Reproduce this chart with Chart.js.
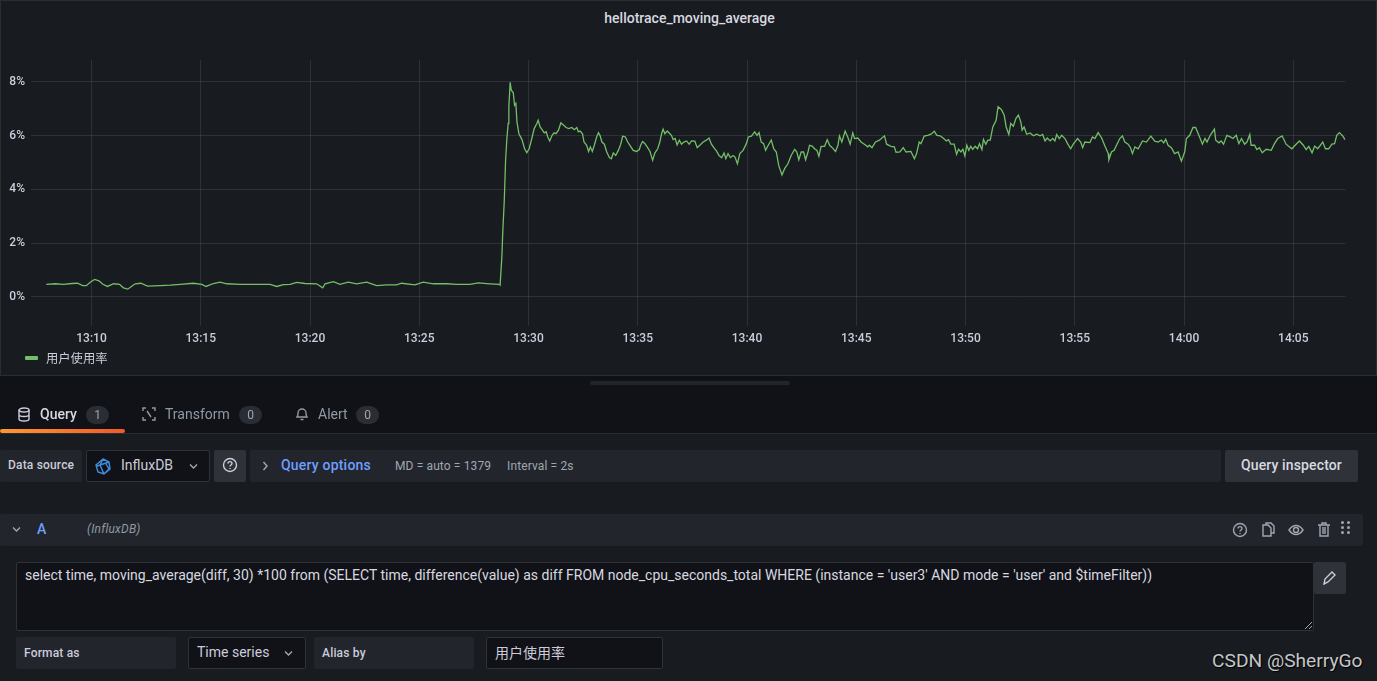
<!DOCTYPE html>
<html lang="zh">

<head>
  <meta charset="UTF-8">
  <title>hellotrace_moving_average</title>
  <script src="https://cdn.jsdelivr.net/npm/chart.js@4"></script>
  <style>
    html, body { margin: 0; height: 100%; background: #181b1f; overflow: hidden; }
    body { position: relative; width: 1377px; height: 681px; font: 14px Roboto, "Noto Sans CJK SC", sans-serif; color: #ccccdc; }
    .abs { position: absolute; white-space: nowrap; box-sizing: border-box; }
    .box { background: #22252b; border-radius: 2px; }
    .btn { background: #2f3238; border-radius: 2px; }
    .field { background: #111217; border: 1px solid #2f3238; border-radius: 2px; }
    .lbl { font-size: 12px; font-weight: 500; color: #ccccdc; letter-spacing: .18px; }
    .badge { background: #2a2d33; border-radius: 9px; font-size: 12px; text-align: center; line-height: 18px; color: #9fa7b3; }
    svg { position: absolute; fill: none; stroke: #ccccdc; stroke-width: 1.4; }
  </style>
</head>

<body>
  <!-- Panel -->
  <div class="abs" style="left:0;top:0;width:1377px;height:376px;background:#181b1f;border:1px solid #2a2d33"></div>
  <div class="abs" style="left:0;top:10px;width:1379px;text-align:center;font-weight:500;color:#d8d9e0">hellotrace_moving_average</div>
  <div style="position:absolute;left:0;top:0;width:1377px;height:376px"><canvas id="usage-chart"></canvas></div>
  <div class="abs" style="left:25px;top:356px;width:13px;height:4px;background:#73bf69;border-radius:1px"></div>
  <div class="abs" style="left:46px;top:349px;font-size:12.3px;color:#ccccdc">用户使用率</div>

  <!-- Tabs -->
  <div class="abs" style="left:0;top:376px;width:1377px;height:58px;background:#111217;border-bottom:1px solid #2a2d33"></div>
  <div class="abs" style="left:590px;top:381px;width:200px;height:4px;background:#22252b;border-radius:2px"></div>
  <svg style="left:17px;top:407px" width="14" height="15" viewBox="0 0 14 15"><ellipse cx="7" cy="3" rx="5" ry="2"/><path d="M2 3v9c0 1 2 2 5 2s5-1 5-2V3M2 7.500c0 1 2 2 5 2s5-1 5-2"/></svg>
  <div class="abs" style="left:40px;top:406px;font-weight:500;color:#d8d9e0">Query</div>
  <div class="abs badge" style="left:86px;top:406px;width:23px;height:18px">1</div>
  <svg style="left:142px;top:407px;stroke:#8e9aa6" width="14" height="14" viewBox="0 0 14 14"><path d="M1 4V1h3M10 1h3v3M13 10v3h-3M4 13H1v-3M5 4l4 6"/></svg>
  <div class="abs" style="left:165px;top:406px;color:#8e9aa6">Transform</div>
  <div class="abs badge" style="left:239px;top:406px;width:23px;height:18px">0</div>
  <svg style="left:296px;top:407px;stroke:#8e9aa6" width="12" height="14" viewBox="0 0 12 14"><path d="M1 10c1-1 1-2 1-4a4 4 0 0 1 8 0c0 2 0 3 1 4zM4.500 12.500h3"/></svg>
  <div class="abs" style="left:318px;top:406px;color:#8e9aa6">Alert</div>
  <div class="abs badge" style="left:356px;top:406px;width:23px;height:18px">0</div>
  <div class="abs" style="left:0;top:429px;width:125px;height:4px;border-radius:2px;background:linear-gradient(90deg,#ff9830,#f05a28)"></div>

  <!-- Data source row -->
  <div class="abs box lbl" style="left:0;top:450px;width:82px;height:32px;padding:8px 0 0 8px">Data source</div>
  <div class="abs field" style="left:86px;top:450px;width:124px;height:32px"></div>
  <svg style="left:95px;top:458px;stroke:#3d8fe0" width="16" height="17" viewBox="0 0 16 17"><path d="M8 1l6 3 1 7-6 5-6-2-2-7zM8 1L5 7l4 9M5 7l9-3M5 7l-3 1M9 16l5-5-3-5"/></svg>
  <div class="abs" style="left:121px;top:457px">InfluxDB</div>
  <svg style="left:189px;top:463px;stroke:#9fa7b3" width="9" height="7" viewBox="0 0 9 7"><path d="M1 1.500l3.500 3.500L8 1.500"/></svg>
  <div class="abs btn" style="left:214px;top:450px;width:32px;height:32px"></div>
  <svg style="left:222px;top:457px" width="16" height="16" viewBox="0 0 16 16"><circle cx="8" cy="8" r="6.500"/><path d="M6 6.500c0-2.500 4-2.500 4 0 0 1.500-2 1.500-2 3M8 11v1"/></svg>
  <div class="abs box" style="left:250px;top:450px;width:971px;height:32px"></div>
  <svg style="left:262px;top:461px;stroke:#9fa7b3" width="7" height="10" viewBox="0 0 7 10"><path d="M1.500 1l3.500 4-3.500 4"/></svg>
  <div class="abs" style="left:281px;top:457px;font-weight:500;color:#6e9fff;letter-spacing:.2px">Query options</div>
  <div class="abs" style="left:395px;top:459px;font-size:12px;color:#9fa7b3;letter-spacing:.12px">MD = auto = 1379</div>
  <div class="abs" style="left:507px;top:459px;font-size:12px;color:#9fa7b3;letter-spacing:.12px">Interval = 2s</div>
  <div class="abs btn" style="left:1225px;top:450px;width:133px;height:32px;padding:7px 0 0 16px;font-weight:500;color:#d8d9e0;letter-spacing:.13px">Query inspector</div>

  <!-- Query row -->
  <div class="abs box" style="left:0;top:514px;width:1363px;height:32px"></div>
  <svg style="left:12px;top:526px;stroke:#9fa7b3" width="9" height="7" viewBox="0 0 9 7"><path d="M1 1.500l3.500 3.500L8 1.500"/></svg>
  <div class="abs" style="left:37px;top:521px;font-weight:500;color:#6e9fff">A</div>
  <div class="abs" style="left:87px;top:522px;font-size:12px;font-style:italic;color:#8e9aa6;letter-spacing:.2px">(InfluxDB)</div>
  <svg style="left:1232px;top:522px;stroke:#9fa7b3" width="16" height="16" viewBox="0 0 16 16"><circle cx="8" cy="8" r="6.500"/><path d="M6 6.500c0-2.500 4-2.500 4 0 0 1.500-2 1.500-2 3M8 11v1"/></svg>
  <svg style="left:1262px;top:522px;stroke:#9fa7b3" width="13" height="15" viewBox="0 0 13 15"><path d="M4 3V1h5l3 3v7H9M1 3h5l3 3v8H1z"/></svg>
  <svg style="left:1288px;top:523px;stroke:#9fa7b3" width="16" height="14" viewBox="0 0 16 14"><path d="M1 7c4-6 10-6 14 0-4 6-10 6-14 0z"/><circle cx="8" cy="7" r="2.500"/></svg>
  <svg style="left:1318px;top:522px;stroke:#9fa7b3" width="12" height="15" viewBox="0 0 12 15"><path d="M0 3h12M4 3V1h4v2M2 3v11h8V3M5 5v7M7 5v7"/></svg>
  <svg style="left:1341px;top:521px;fill:#9fa7b3;stroke:none" width="9" height="13" viewBox="0 0 9 13"><circle cx="1.500" cy="1.500" r="1.500"/><circle cx="7.500" cy="1.500" r="1.500"/><circle cx="1.500" cy="6.500" r="1.500"/><circle cx="7.500" cy="6.500" r="1.500"/><circle cx="1.500" cy="11.500" r="1.500"/><circle cx="7.500" cy="11.500" r="1.500"/></svg>

  <!-- Query text -->
  <div class="abs field" style="left:16px;top:562px;width:1298px;height:69px;padding:4px 0 0 8px;color:#d8d9e0">select time, moving_average(diff, 30) *100 from (SELECT time, difference(value) as diff FROM node_cpu_seconds_total WHERE (instance = 'user3' AND mode = 'user' and $timeFilter))</div>
  <svg style="left:1304px;top:621px;stroke:#9fa7b3;stroke-width:1" width="9" height="9" viewBox="0 0 9 9"><path d="M1 8l7-7M5 8l3-3"/></svg>
  <div class="abs btn" style="left:1314px;top:562px;width:32px;height:32px"></div>
  <svg style="left:1323px;top:570px" width="14" height="15" viewBox="0 0 14 15"><path d="M1 14l1-5 7-7 3 3-7 7z"/></svg>

  <!-- Format row -->
  <div class="abs box lbl" style="left:16px;top:637px;width:160px;height:32px;padding:9px 0 0 8px">Format as</div>
  <div class="abs field" style="left:188px;top:637px;width:118px;height:32px;padding:6px 0 0 8px">Time series</div>
  <svg style="left:284px;top:650px;stroke:#9fa7b3" width="9" height="7" viewBox="0 0 9 7"><path d="M1 1.500l3.500 3.500L8 1.500"/></svg>
  <div class="abs box lbl" style="left:314px;top:637px;width:160px;height:32px;padding:9px 0 0 8px">Alias by</div>
  <div class="abs field" style="left:486px;top:637px;width:177px;height:32px;padding:4px 0 0 8px">用户使用率</div>
  <div class="abs" style="left:1212px;top:649px;font-size:19.2px;color:#c4c6c8;text-shadow:1px 1px 1px #000">CSDN @SherryGo</div>

  <script>
    // Minutes after 13:00 at the turning points of the line
    const minutes = [
      7.93, 8.34, 8.72, 9.10, 9.36, 9.60, 9.76, 9.94, 10.14, 10.34, 10.52, 10.73, 11.01, 11.28, 11.46, 11.66, 11.84, 12.00, 12.26, 12.56,
      12.84, 13.14, 13.60, 14.05, 14.66, 15.05, 15.24, 15.58, 15.88, 16.19, 16.80, 17.41, 18.17, 18.48, 18.78, 19.09, 19.39, 19.77, 20.30, 20.58,
      20.69, 21.07, 21.37, 21.75, 22.13, 22.59, 23.05, 23.51, 23.96, 24.19, 24.80, 25.18, 25.64, 26.25, 26.71, 27.32, 27.70, 28.23, 28.66, 28.70,
      28.78, 28.82, 28.89, 28.95, 29.01, 29.07, 29.10, 29.16, 29.21, 29.30, 29.36, 29.42, 29.47, 29.56, 29.70, 29.82, 29.92, 30.03, 30.15, 30.26,
      30.38, 30.44, 30.53, 30.62, 30.72, 30.81, 30.88, 30.97, 31.08, 31.17, 31.26, 31.37, 31.48, 31.60, 31.72, 31.84, 31.98, 32.09, 32.21, 32.28,
      32.36, 32.47, 32.54, 32.66, 32.75, 32.83, 32.92, 33.01, 33.12, 33.20, 33.27, 33.36, 33.47, 33.58, 33.70, 33.79, 33.88, 33.99, 34.11, 34.22,
      34.31, 34.43, 34.54, 34.67, 34.79, 34.95, 35.07, 35.13, 35.22, 35.33, 35.45, 35.56, 35.68, 35.78, 35.91, 36.01, 36.09, 36.16, 36.24, 36.35,
      36.47, 36.54, 36.62, 36.71, 36.80, 36.90, 37.00, 37.11, 37.23, 37.35, 37.46, 37.61, 37.72, 37.84, 37.99, 38.14, 38.26, 38.37, 38.49, 38.60,
      38.72, 38.84, 38.95, 39.03, 39.13, 39.24, 39.36, 39.45, 39.56, 39.67, 39.82, 39.97, 40.06, 40.20, 40.35, 40.46, 40.55, 40.65, 40.76, 40.85,
      40.97, 41.11, 41.22, 41.34, 41.45, 41.60, 41.72, 41.87, 42.02, 42.18, 42.28, 42.37, 42.48, 42.59, 42.68, 42.79, 42.86, 42.98, 43.09, 43.20,
      43.29, 43.39, 43.55, 43.67, 43.78, 43.90, 44.05, 44.16, 44.23, 44.34, 44.49, 44.61, 44.72, 44.84, 44.92, 45.07, 45.22, 45.37, 45.53, 45.60,
      45.72, 45.88, 46.06, 46.29, 46.39, 46.59, 46.74, 46.82, 47.00, 47.15, 47.28, 47.50, 47.66, 47.76, 47.88, 47.96, 48.11, 48.26, 48.42, 48.57,
      48.69, 48.84, 49.00, 49.12, 49.22, 49.33, 49.48, 49.59, 49.68, 49.79, 49.88, 49.97, 50.06, 50.15, 50.24, 50.33, 50.44, 50.55, 50.64, 50.75,
      50.82, 50.93, 51.02, 51.13, 51.25, 51.40, 51.49, 51.64, 51.77, 51.86, 51.98, 52.07, 52.19, 52.31, 52.42, 52.53, 52.59, 52.68, 52.80, 52.95,
      53.11, 53.26, 53.41, 53.53, 53.64, 53.74, 53.87, 53.99, 54.09, 54.17, 54.29, 54.40, 54.55, 54.67, 54.81, 54.93, 55.13, 55.27, 55.36, 55.46,
      55.69, 55.81, 55.92, 56.07, 56.23, 56.38, 56.53, 56.56, 56.68, 56.80, 56.91, 57.06, 57.18, 57.29, 57.44, 57.55, 57.64, 57.75, 57.90, 58.10,
      58.28, 58.48, 58.66, 58.81, 58.96, 59.07, 59.16, 59.27, 59.42, 59.57, 59.73, 59.88, 60.03, 60.11, 60.26, 60.41, 60.53, 60.68, 60.84, 60.96,
      61.05, 61.20, 61.39, 61.45, 61.60, 61.70, 61.81, 61.96, 62.12, 62.24, 62.39, 62.51, 62.63, 62.77, 62.88, 63.01, 63.07, 63.23, 63.33, 63.45,
      63.58, 63.76, 63.99, 64.14, 64.29, 64.49, 64.67, 64.93, 65.13, 65.28, 65.46, 65.59, 65.71, 65.86, 65.98, 66.12, 66.35, 66.47, 66.62, 66.77,
      66.89, 66.99, 67.11, 67.26, 67.37
    ];

    // 用户使用率, percent
    const usage = [
      .47, .49, .47, .50, .51, .42, .42, .55, .65, .60, .47, .39, .49, .47, .34, .29, .40, .49, .51, .40,
      .41, .42, .44, .47, .51, .47, .39, .50, .55, .49, .47, .47, .47, .39, .46, .47, .54, .50, .49, .34,
      .49, .57, .47, .55, .49, .55, .42, .45, .45, .51, .45, .55, .49, .49, .47, .47, .52, .49, .47, .44,
      1.50, 2.40, 3.58, 5.08, 5.89, 6.45, 7.07, 7.98, 7.69, 7.60, 7.13, 7.20, 6.51, 6.07, 5.85, 5.51, 5.36, 5.51, 5.89, 6.26,
      6.45, 6.57, 6.32, 6.22, 6.10, 6.14, 5.95, 5.80, 6.01, 6.10, 6.07, 6.20, 6.47, 6.39, 6.30, 6.26, 6.30, 6.22, 6.30, 6.14,
      6.17, 6.07, 5.76, 5.64, 5.41, 5.58, 5.41, 5.64, 5.95, 6.11, 6.01, 5.76, 5.68, 5.39, 5.18, 5.14, 5.35, 5.26, 5.45, 5.68,
      5.98, 5.95, 5.76, 5.60, 5.45, 5.41, 5.48, 5.64, 5.78, 5.70, 5.55, 5.41, 5.08, 5.35, 5.51, 5.76, 6.07, 6.24, 6.07, 6.17,
      6.07, 6.01, 5.85, 5.89, 5.65, 5.83, 5.68, 5.76, 5.80, 5.68, 5.80, 5.79, 5.55, 5.64, 5.76, 5.83, 5.91, 5.68, 5.54, 5.43,
      5.26, 5.18, 5.35, 5.14, 5.33, 5.18, 5.26, 5.20, 4.95, 5.33, 5.45, 5.70, 5.95, 5.98, 6.14, 6.01, 6.11, 5.76, 5.70, 5.45,
      5.64, 5.83, 5.51, 5.39, 4.89, 4.54, 4.77, 4.95, 5.26, 5.49, 5.39, 5.10, 5.39, 5.39, 5.10, 5.39, 5.64, 5.61, 5.51, 5.45,
      5.23, 5.60, 5.60, 5.85, 5.64, 5.55, 5.41, 5.64, 5.99, 5.76, 6.17, 5.95, 5.68, 6.10, 5.89, 5.91, 5.76, 5.68, 5.58, 5.64,
      5.55, 5.76, 5.83, 5.99, 5.68, 5.60, 5.58, 5.38, 5.39, 5.55, 5.39, 5.41, 5.14, 5.33, 5.76, 5.70, 5.98, 6.01, 6.05, 6.16,
      6.01, 5.99, 5.89, 5.80, 5.85, 5.68, 5.68, 5.30, 5.49, 5.39, 5.49, 5.24, 5.64, 5.45, 5.60, 5.49, 5.60, 5.51, 5.70, 5.48,
      5.86, 5.68, 5.83, 5.83, 6.32, 6.57, 7.07, 6.97, 6.76, 6.32, 6.04, 6.45, 6.35, 6.64, 6.76, 6.51, 6.20, 6.32, 6.05, 6.10,
      5.99, 6.05, 5.99, 6.04, 5.80, 5.91, 5.80, 5.89, 5.80, 6.04, 5.89, 6.01, 5.89, 5.70, 5.51, 5.68, 5.89, 5.76, 5.55, 5.76,
      5.74, 5.95, 5.89, 6.11, 5.91, 5.61, 5.33, 5.10, 5.39, 5.45, 5.64, 5.89, 5.99, 5.76, 5.68, 5.55, 5.33, 5.58, 5.51, 5.80,
      5.76, 5.98, 5.79, 5.76, 5.83, 5.73, 5.86, 5.64, 5.55, 5.33, 5.39, 5.05, 5.39, 5.89, 6.01, 6.30, 6.30, 6.01, 5.68, 5.89,
      5.76, 6.01, 6.24, 5.83, 5.73, 5.80, 5.68, 6.01, 5.95, 5.89, 6.01, 5.70, 5.89, 5.68, 5.76, 6.04, 5.64, 5.64, 5.48, 5.55,
      5.36, 5.49, 5.45, 5.70, 5.89, 5.99, 5.68, 5.51, 5.68, 5.80, 5.64, 5.48, 5.60, 5.36, 5.61, 5.51, 5.76, 5.51, 5.51, 5.68,
      5.70, 6.01, 6.11, 5.99, 5.85
    ];

    const xTickValues = [10, 15, 20, 25, 30, 35, 40, 45, 50, 55, 60, 65];
    const xTickLabels = ['13:10', '13:15', '13:20', '13:25', '13:30', '13:35', '13:40', '13:45', '13:50', '13:55', '14:00', '14:05'];
    const yTickValues = [0, 2, 4, 6, 8];
    const yTickLabels = ['0%', '2%', '4%', '6%', '8%'];

    const gridColor = 'rgba(204, 204, 220, 0.12)';
    const tickFont = { family: 'Roboto', size: 12, weight: '500' };

    new Chart(document.getElementById('usage-chart'), {
      type: 'line',
      data: {
        datasets: [{
          label: '用户使用率',
          data: minutes.map((m, i) => ({ x: m, y: usage[i] })),
          borderColor: '#73bf69',
          borderWidth: 1.3,
          pointRadius: 0,
          tension: 0
        }]
      },
      options: {
        responsive: true,
        maintainAspectRatio: false,
        animation: false,
        layout: { padding: { top: 60, right: 31.5, left: 0, bottom: 0 } },
        plugins: { legend: { display: false }, tooltip: { enabled: false } },
        scales: {
          x: {
            type: 'linear',
            min: 7.23,
            max: 67.39,
            afterBuildTicks: axis => { axis.ticks = xTickValues.map(v => ({ value: v })); },
            afterFit: axis => { axis.height = 50; },
            grid: { color: gridColor, drawTicks: false },
            border: { display: false },
            ticks: {
              color: '#ccccdc',
              font: tickFont,
              padding: 6,
              maxRotation: 0,
              autoSkip: false,
              callback: (v, i) => xTickLabels[i]
            }
          },
          y: {
            min: -1.08,
            max: 8.81,
            afterBuildTicks: axis => { axis.ticks = yTickValues.map(v => ({ value: v })); },
            afterFit: axis => { axis.width = 31; },
            grid: { color: gridColor, drawTicks: false },
            border: { display: false },
            ticks: {
              color: '#ccccdc',
              font: tickFont,
              padding: 6,
              callback: (v, i) => yTickLabels[i]
            }
          }
        }
      }
    });
  </script>
</body>

</html>
